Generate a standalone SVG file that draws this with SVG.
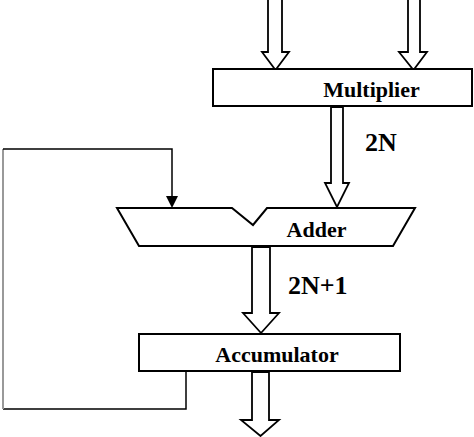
<svg xmlns="http://www.w3.org/2000/svg" width="474" height="437" viewBox="0 0 474 437">
<style>
.blk{fill:#fff;stroke:#000;stroke-width:2}
.bus{fill:#fff;stroke:#000;stroke-width:1.8;stroke-linejoin:miter}
.wire{fill:none;stroke:#000;stroke-width:1.5}
.lbl{font-family:"Liberation Serif","Times New Roman",serif;font-weight:bold;font-size:22px;fill:#000}
.bw{font-family:"Liberation Serif","Times New Roman",serif;font-weight:bold;font-size:26px;fill:#000}
</style>
<rect width="474" height="437" fill="#fff"/>
<g id="connectors">
<polygon class="bus" points="268,-3 268,52 262,52 275.5,70 289,52 282,52 282,-3"/>
<polygon class="bus" points="408,-3 408,52 399,52 413.5,70 427,52 420,52 420,-3"/>
<polygon class="bus" points="331,107 331,183 325,183 337,207 349,183 343,183 343,107"/>
<polygon class="bus" points="252,247 252,313 243,313 261,333 279,313 270,313 270,247"/>
<polygon class="bus" points="252,372 252,420 241,420 260.5,436 279,420 269,420 269,372"/>
<polyline class="wire" points="186,372 186,409 3,409"/>
<line x1="3" y1="409" x2="3" y2="149" stroke="#999" stroke-width="2"/>
<polyline class="wire" points="3,149 172,149 172,197"/>
<polygon points="166,196 178,196 172,208" fill="#000"/>
<text class="bw" x="365" y="151">2N</text>
<text class="bw" x="288" y="294">2N+1</text>
</g>
<g id="multiplier">
<rect class="blk" x="213" y="69" width="259" height="37"/>
<text class="lbl" x="371.5" y="97" text-anchor="middle">Multiplier</text>
</g>
<g id="adder">
<polygon class="blk" points="117,208 232,208 253,225 267,208 415,208 393,246 139,246"/>
<text class="lbl" x="316.5" y="237" text-anchor="middle">Adder</text>
</g>
<g id="accumulator">
<rect class="blk" x="139" y="334" width="261" height="37"/>
<text class="lbl" x="277" y="361.5" text-anchor="middle">Accumulator</text>
</g>
</svg>
